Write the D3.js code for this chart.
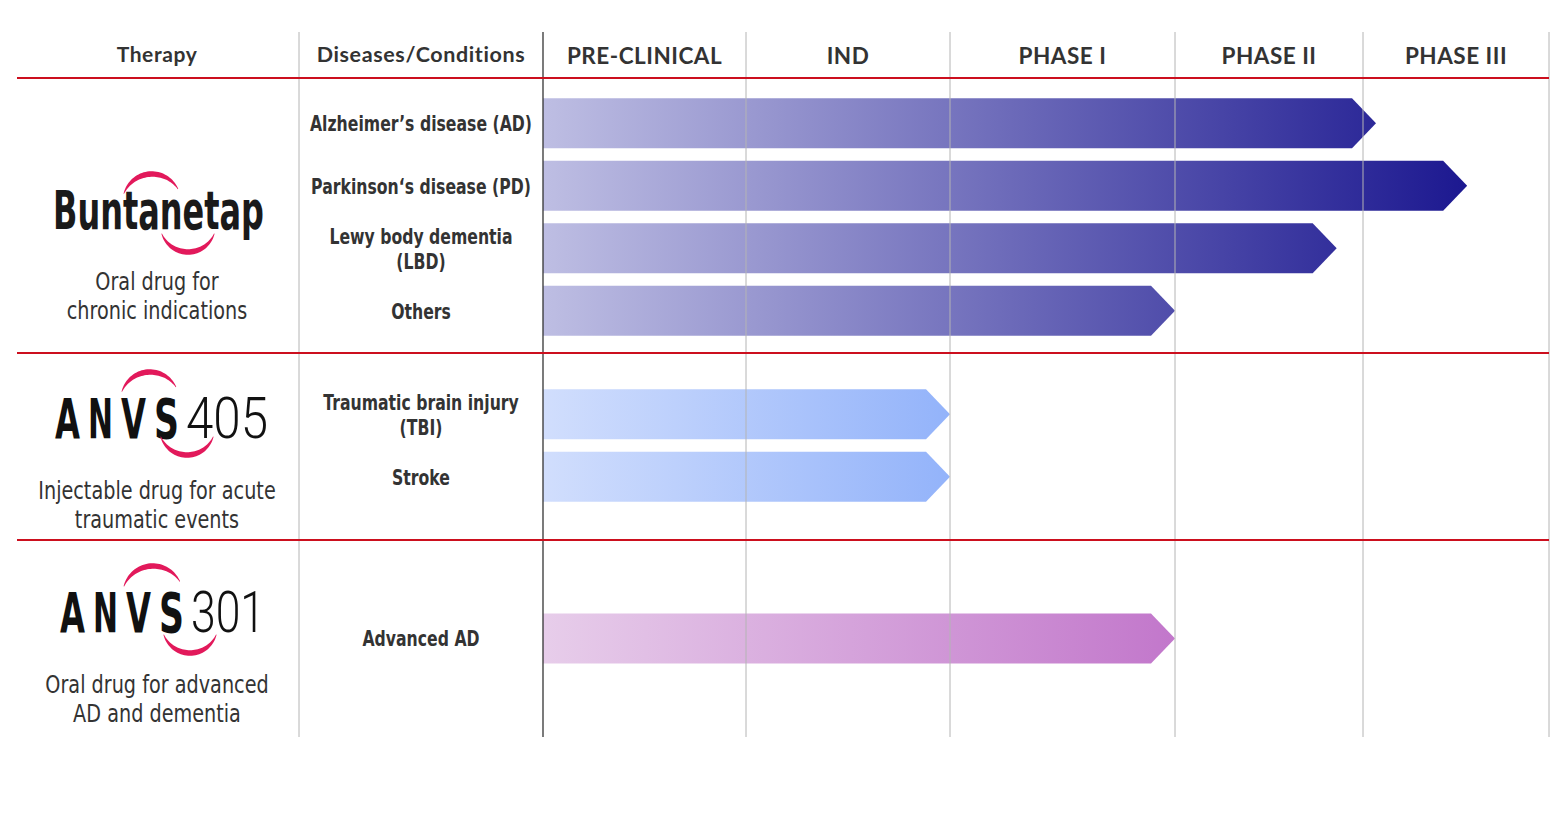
<!DOCTYPE html>
<html>
<head>
<meta charset="utf-8">
<script src="https://cdn.jsdelivr.net/npm/d3@7"></script>
<style>
  body { margin: 0; background: #fff; }
  .head { font-family: Lato, sans-serif; font-weight: 700; fill: #333; text-anchor: middle; }
  .cond { font-family: "DejaVu Sans", sans-serif; }
</style>
</head>
<body>
<svg id="chart" width="1564" height="819"></svg>
<script>
// ---- data ----
var phases = ['PRE-CLINICAL', 'IND', 'PHASE I', 'PHASE II', 'PHASE III'];
var therapies = ['Buntanetap', 'ANVS405', 'ANVS301'];
var therapyNotes = [
  ['Oral drug for', 'chronic indications'],
  ['Injectable drug for acute', 'traumatic events'],
  ['Oral drug for advanced', 'AD and dementia']
];
var diseases = [
  'Alzheimer’s disease (AD)',
  'Parkinson‘s disease (PD)',
  'Lewy body dementia|(LBD)',
  'Others',
  'Traumatic brain injury|(TBI)',
  'Stroke',
  'Advanced AD'
];
var diseaseTherapy = [0, 0, 0, 0, 1, 1, 2];
// how far each program has got, in phase units (0 = start of pre-clinical)
var progress = [4.07, 4.56, 3.86, 3.0, 2.0, 2.0, 3.0];

// ---- layout ----
var svg = d3.select('#chart');
var colEdges = [543, 746, 950, 1175, 1363, 1549];
var rowEdges = [78, 353, 540, 737];
var gridTop = 32;
var barH = 50;
var gradColors = [['#bebee3', '#1c1890'], ['#d1defd', '#93b3fa'], ['#e7cdea', '#c277cb']];

// no narrow font installed: squeeze text horizontally around x
function condense(sel, ratio, cx) {
  sel.attr('transform', 'translate(' + cx + ',0) scale(' + ratio + ',1) translate(' + (-cx) + ',0)');
}

var x = d3.scaleLinear()
  .domain(d3.range(phases.length + 1))
  .range(colEdges);

// one band scale per therapy section, bars centred in their section
var yBands = therapies.map(function (t, i) {
  var rows = d3.range(diseases.length).filter(j => diseaseTherapy[j] === i);
  var step = 62.5;
  var len = rows.length * step - step * 0.2;
  var mid = (rowEdges[i] + rowEdges[i + 1]) / 2 + [1.5, -1, -5][i];
  return d3.scaleBand().domain(rows).range([mid - len / 2, mid + len / 2]).paddingInner(0.2);
});
function barY(j) { return yBands[diseaseTherapy[j]](j); }

var rows = diseases.map(function (d, j) {
  return { label: d, therapy: diseaseTherapy[j], value: progress[j], y: barY(j) };
});

// gradients
var defs = svg.append('defs');
therapies.forEach(function (t, i) {
  var maxV = d3.max(rows.filter(r => r.therapy === i), r => r.value);
  var g = defs.append('linearGradient')
    .attr('id', 'grad' + i)
    .attr('gradientUnits', 'userSpaceOnUse')
    .attr('x1', x(0)).attr('x2', x(maxV))
    .attr('y1', 0).attr('y2', 0);
  g.append('stop').attr('offset', 0).attr('stop-color', gradColors[i][0]);
  g.append('stop').attr('offset', 1).attr('stop-color', gradColors[i][1]);
});

// arrows
function arrow(d) {
  var x0 = x(0), xt = x(d.value), tip = barH / 2 - 1;
  return 'M' + x0 + ',' + d.y +
    'L' + (xt - tip) + ',' + d.y +
    'L' + xt + ',' + (d.y + barH / 2) +
    'L' + (xt - tip) + ',' + (d.y + barH) +
    'L' + x0 + ',' + (d.y + barH) + 'Z';
}

svg.selectAll('.bar')
  .data(rows)
  .enter()
  .append('path')
  .attr('class', 'bar')
  .attr('d', arrow)
  .attr('fill', d => 'url(#grad' + d.therapy + ')');

// grid lines
svg.selectAll('.vline')
  .data([299].concat(colEdges))
  .enter()
  .append('line')
  .attr('class', 'vline')
  .attr('x1', d => d).attr('x2', d => d)
  .attr('y1', gridTop).attr('y2', rowEdges[3])
  .attr('stroke', d => d === x(0) ? '#333' : '#b4b4b4')
  .attr('stroke-width', d => d === x(0) ? 1.3 : 1);

svg.selectAll('.hline')
  .data(rowEdges.slice(0, 3))
  .enter()
  .append('line')
  .attr('class', 'hline')
  .attr('x1', 17).attr('x2', x(phases.length))
  .attr('y1', d => d).attr('y2', d => d)
  .attr('stroke', '#cc0f1e')
  .attr('stroke-width', 2);

// header
svg.append('text').attr('class', 'head').attr('x', 157).attr('y', 62)
  .style('font-size', '21px').style('letter-spacing', '0.6px').text('Therapy');
svg.append('text').attr('class', 'head').attr('x', 421).attr('y', 62)
  .style('font-size', '21.5px').style('letter-spacing', '0.6px').text('Diseases/Conditions');
svg.selectAll('.phase')
  .data(phases)
  .enter()
  .append('text')
  .attr('class', 'head phase')
  .attr('x', (d, i) => x(i + 0.5))
  .attr('y', 64)
  .style('font-size', '22.5px')
  .style('letter-spacing', '0.5px')
  .text(d => d);

// disease labels, one text per line
var labelLines = [];
rows.forEach(function (d) {
  var lines = d.label.split('|');
  lines.forEach(function (l, k) {
    labelLines.push({ text: l, y: d.y + barH / 2 + 8 + (k - (lines.length - 1) / 2) * 25 });
  });
});
svg.selectAll('.dlabel')
  .data(labelLines)
  .enter()
  .append('text')
  .attr('class', 'cond dlabel')
  .attr('x', 421)
  .attr('y', d => d.y)
  .attr('text-anchor', 'middle')
  .attr('fill', '#333')
  .style('font-size', '20.5px')
  .style('font-weight', 700)
  .text(d => d.text)
  .call(condense, 0.765, 421);

// therapy logos
var logoBase = [229, 438, 632];
var logoLeft = [53, 55, 60];
var logoRight = [264, 268, 265];
var arcPos = [
  [[152, -25, 30], [188, -5, 28]],
  [[150, -36, 30], [187, -11, 28]],
  [[153, -35, 31], [190, -7, 28]]
];

function crescent(cx, cy, r, a0, a1, w) {
  var n = 40, outer = [], inner = [];
  for (var k = 0; k <= n; k++) {
    var t = k / n, a = a0 + (a1 - a0) * t;
    var th = w * Math.sin(Math.PI * t) + 0.6;
    outer.push([cx + (r + th / 2) * Math.cos(a), cy + (r + th / 2) * Math.sin(a)]);
    inner.push([cx + (r - th / 2) * Math.cos(a), cy + (r - th / 2) * Math.sin(a)]);
  }
  return d3.line()(outer.concat(inner.reverse())) + 'Z';
}

therapies.forEach(function (t, i) {
  var g = svg.append('g');
  var base = logoBase[i];
  var deg = Math.PI / 180;
  var a = arcPos[i];
  var left = logoLeft[i];
  if (t === 'Buntanetap') {
    g.append('text')
      .attr('class', 'cond')
      .attr('x', left).attr('y', base)
      .attr('textLength', logoRight[i] - left)
      .attr('lengthAdjust', 'spacingAndGlyphs')
      .style('font-size', '53px').style('font-weight', 700)
      .attr('fill', '#1a1a1a')
      .text(t);
  } else {
    // bold spaced letters, then light digits
    g.selectAll('.ltr')
      .data(t.slice(0, 4).split(''))
      .enter()
      .append('text')
      .attr('class', 'cond')
      .attr('x', (c, k) => left + k * 33)
      .attr('y', base)
      .attr('textLength', 25)
      .attr('lengthAdjust', 'spacingAndGlyphs')
      .style('font-size', '55px').style('font-weight', 700)
      .attr('fill', '#111')
      .text(c => c);
    g.append('text')
      .attr('x', left + 131).attr('y', base)
      .attr('textLength', logoRight[i] - left - 131)
      .attr('lengthAdjust', 'spacingAndGlyphs')
      .style('font-family', 'Roboto, sans-serif')
      .style('font-size', '57px').style('font-weight', 300)
      .attr('fill', '#111')
      .text(t.slice(4));
  }
  g.append('path')
    .attr('d', crescent(a[0][0], base + a[0][1], a[0][2], -160 * deg, -30 * deg, 5))
    .attr('fill', '#e2195b');
  g.append('path')
    .attr('d', crescent(a[1][0], base + a[1][1], a[1][2], 160 * deg, 20 * deg, 5))
    .attr('fill', '#e2195b');

  g.selectAll('.note')
    .data(therapyNotes[i])
    .enter()
    .append('text')
    .attr('class', 'cond note')
    .attr('x', 157).attr('y', (l, k) => base + 61 + k * 29)
    .attr('text-anchor', 'middle')
    .attr('fill', '#333')
    .style('font-size', '24.5px')
    .text(l => l)
    .call(condense, 0.785, 157);
});
</script>
</body>
</html>
